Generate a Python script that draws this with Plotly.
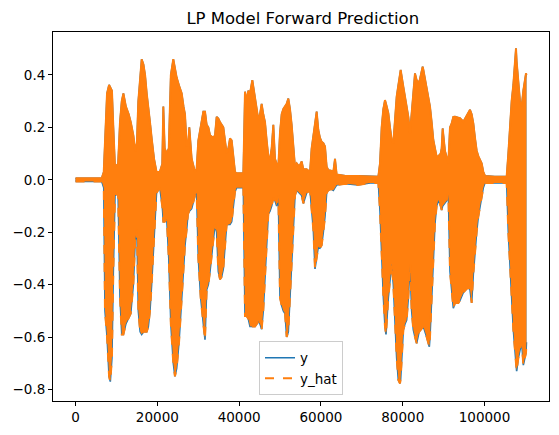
import plotly.graph_objs as go

# envelope of the waveform (sample index, upper, lower)
sample = [0, 3000, 6400, 6900, 7200, 7700, 8200, 8500, 8900, 9240, 9650, 10400,
          10870, 11300, 11700, 12300, 13000, 13500, 14130, 14600, 15000,
          15350, 15800, 16170, 16600, 17000, 17400, 17800, 18200, 18600, 19200, 19800, 20600,
          21200, 21465, 21800, 22300, 22800, 23300, 23900, 24300, 24725, 25300, 25950, 26400,
          26760, 27170, 27500, 27820, 28390, 29200,
          29600, 30022, 30600, 31245, 31652, 32060, 32470, 32875, 33690, 34097, 34500, 34912,
          35320, 35727, 36135, 36540, 36950, 37360, 37765, 38172, 38580, 38987, 39395, 41025,
          41432, 41840, 42247, 42655, 43225, 43877, 44300, 44692, 45100, 45507, 45900, 46322,
          46730, 47137, 47545, 47950, 48360, 48770, 49175, 49580,
          49990, 50397, 50800, 51212, 51620, 52027, 52435, 52842, 53087, 53657, 54065, 54700,
          55287, 55695, 56500, 57325,
          57732, 58140, 58547, 58955, 59362, 59770, 60177, 60585, 60992, 61400, 61807, 62500,
          63030, 63437, 63845, 66000, 69000, 72000, 74032,
          74440, 74850, 75255, 75662, 75907, 76477, 76885, 77292, 77700,
          78107, 78515, 78922, 79330, 79492, 80145, 80550, 80960, 81370, 81775, 82182,
          82590, 82997, 83405, 84000, 84500, 84872, 85035, 85850, 86502, 86665, 87072, 87480,
          87887, 88295, 88702, 89272, 89517, 89762, 90332, 90740, 91147,
          91555, 91962, 92370, 92777, 93592, 94000, 94815, 95400, 96037, 96445, 96852, 97260,
          97667, 98075, 98482, 99297, 99705, 100112, 102500, 105410,
          105817, 106225, 106630, 107040, 107692, 107855, 108262, 108670, 109077, 109485,
          110137, 110250]

y_top = [0.006, 0.006, 0.006, 0.03, 0.16, 0.33, 0.362, 0.35, 0.34, 0.20, 0.05, 0.06,
         0.22, 0.30, 0.33, 0.28, 0.25, 0.22, 0.17, 0.11, 0.14,
         0.30, 0.40, 0.46, 0.44, 0.40, 0.33, 0.26, 0.22, 0.16, 0.08, 0.03, 0.03,
         0.06, 0.28, 0.12, 0.10, 0.12, 0.40, 0.46, 0.42, 0.39, 0.36, 0.33, 0.28,
         0.25, 0.13, 0.13, 0.20, 0.08, 0.03,
         0.04, 0.15, 0.20, 0.26, 0.26, 0.21, 0.20, 0.17, 0.16, 0.17, 0.24, 0.234,
         0.22, 0.21, 0.20, 0.15, 0.10, 0.12, 0.158, 0.15, 0.10, 0.03, 0.025, 0.025,
         0.336, 0.30, 0.34, 0.33, 0.38, 0.31, 0.26, 0.23, 0.25, 0.29, 0.25, 0.22,
         0.15, 0.09, 0.08, 0.12, 0.21, 0.08, 0.06, 0.05,
         0.18, 0.25, 0.27, 0.28, 0.29, 0.31, 0.27, 0.21, 0.15, 0.05, 0.063, 0.05,
         0.07, 0.04, 0.04, 0.03,
         0.12, 0.164, 0.22, 0.26, 0.19, 0.16, 0.145, 0.14, 0.127, 0.05, 0.037, 0.035,
         0.03, 0.08, 0.02, 0.015, 0.015, 0.012, 0.012,
         0.063, 0.20, 0.27, 0.304, 0.29, 0.254, 0.20, 0.152, 0.14,
         0.25, 0.317, 0.36, 0.40, 0.419, 0.355, 0.32, 0.279, 0.24, 0.177, 0.24,
         0.33, 0.406, 0.38, 0.37, 0.40, 0.432, 0.42, 0.355, 0.30, 0.279, 0.22, 0.152,
         0.12, 0.088, 0.09, 0.10, 0.12, 0.196, 0.11, 0.09, 0.063,
         0.20, 0.215, 0.24, 0.241, 0.237, 0.235, 0.222, 0.24, 0.26, 0.267, 0.25, 0.215,
         0.16, 0.112, 0.09, 0.063, 0.03, 0.015, 0.012, 0.012,
         0.10, 0.215, 0.30, 0.362, 0.502, 0.45, 0.355, 0.30, 0.279, 0.34,
         0.406, 0.40]

y_bottom = [-0.006, -0.005, -0.006, -0.03, -0.50, -0.60, -0.75, -0.77, -0.68, -0.35, -0.06, -0.05,
            -0.45, -0.59, -0.59, -0.55, -0.53, -0.51, -0.40, -0.23, -0.19,
            -0.50, -0.58, -0.59, -0.58, -0.58, -0.58, -0.56, -0.50, -0.40, -0.22, -0.05, -0.03,
            -0.10, -0.16, -0.16, -0.15, -0.30, -0.55, -0.70, -0.75, -0.72, -0.62, -0.45, -0.36,
            -0.25, -0.19, -0.13, -0.12, -0.11, -0.06,
            -0.05, -0.30, -0.45, -0.55, -0.61, -0.42, -0.40, -0.35, -0.22, -0.17, -0.20, -0.35,
            -0.38, -0.37, -0.34, -0.25, -0.17, -0.17, -0.17, -0.16, -0.09, -0.045, -0.03, -0.03,
            -0.52, -0.52, -0.53, -0.56, -0.56, -0.56, -0.55, -0.54, -0.55, -0.57, -0.50, -0.34,
            -0.25, -0.13, -0.12, -0.10, -0.07, -0.08, -0.10, -0.06,
            -0.45, -0.48, -0.50, -0.51, -0.60, -0.58, -0.45, -0.35, -0.25, -0.06, -0.04, -0.05,
            -0.06, -0.09, -0.05, -0.04,
            -0.12, -0.19, -0.34, -0.30, -0.255, -0.26, -0.25, -0.20, -0.14, -0.05, -0.04, -0.035,
            -0.04, -0.03, -0.02, -0.015, -0.02, -0.012, -0.012,
            -0.12, -0.30, -0.446, -0.56, -0.59, -0.45, -0.38, -0.32, -0.40,
            -0.573, -0.68, -0.764, -0.777, -0.76, -0.573, -0.55, -0.535, -0.45, -0.32, -0.50,
            -0.573, -0.60, -0.624, -0.58, -0.57, -0.56, -0.56, -0.60, -0.637, -0.60, -0.446, -0.30,
            -0.166, -0.10, -0.077, -0.10, -0.115, -0.10, -0.09, -0.08, -0.05,
            -0.35, -0.42, -0.49, -0.47, -0.47, -0.46, -0.43, -0.42, -0.41, -0.42, -0.47, -0.36,
            -0.268, -0.20, -0.14, -0.064, -0.03, -0.012, -0.012, -0.012,
            -0.20, -0.319, -0.45, -0.573, -0.70, -0.73, -0.68, -0.65, -0.62, -0.707,
            -0.66, -0.62]

# prediction follows the signal so closely that the two envelopes coincide
y_hat_top = list(y_top)
y_hat_bottom = list(y_bottom)

x_ticks = [0, 20000, 40000, 60000, 80000, 100000]
y_ticks = [-0.8, -0.6, -0.4, -0.2, 0.0, 0.2, 0.4]

BLUE = '#1f77b4'
ORANGE = '#ff7f0e'

fig = go.Figure()

# y: solid blue, drawn first so the prediction mostly hides it
fig.add_trace(go.Scatter(x=sample, y=y_bottom, mode='lines', name='y', legendgroup='y',
                         line=dict(color=BLUE, width=1.6)))
fig.add_trace(go.Scatter(x=sample, y=y_top, mode='lines', name='y', legendgroup='y',
                         showlegend=False, fill='tonexty', fillcolor=BLUE,
                         line=dict(color=BLUE, width=1.6)))

# y_hat: dashed orange on top
fig.add_trace(go.Scatter(x=sample, y=y_hat_bottom, mode='lines', name='y_hat', legendgroup='y_hat',
                         line=dict(color=ORANGE, width=2.0, dash='dash')))
fig.add_trace(go.Scatter(x=sample, y=y_hat_top, mode='lines', name='y_hat', legendgroup='y_hat',
                         showlegend=False, fill='tonexty', fillcolor=ORANGE,
                         line=dict(color=ORANGE, width=2.0)))

axis_style = dict(showgrid=False, zeroline=False, showline=True, mirror=True,
                  linecolor='black', linewidth=1, ticks='outside', ticklen=4,
                  tickcolor='black', tickfont=dict(size=13.5, color='black'),
                  automargin=False)

# page body adds 8px around the figure, so the figure is 8px smaller on each side
fig.update_layout(
    width=551, height=427,
    title=dict(text='LP Model Forward Prediction', x=0.535, xanchor='center',
               y=0.975, yanchor='middle', font=dict(size=16.5, color='black')),
    font=dict(family='DejaVu Sans', color='black'),
    plot_bgcolor='white',
    paper_bgcolor='white',
    margin=dict(l=45, r=10, t=24, b=34),
    xaxis=dict(range=[-5512, 115762], tickvals=x_ticks, tickformat='d', **axis_style),
    yaxis=dict(range=[-0.844, 0.564], tickvals=y_ticks, tickformat='.1f', **axis_style),
    legend=dict(x=0.5, y=0.015, xanchor='center', yanchor='bottom',
                bgcolor='rgba(255,255,255,0.8)', bordercolor='#cccccc', borderwidth=1,
                font=dict(size=13.5), tracegroupgap=0),
    showlegend=True,
)

fig.write_html('out.html')
